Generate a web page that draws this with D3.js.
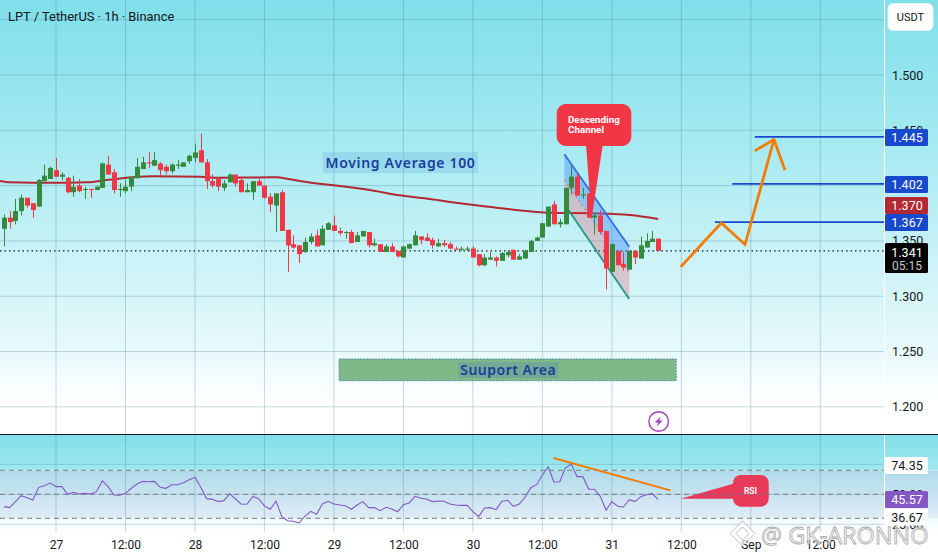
<!DOCTYPE html>
<html>
<head>
<meta charset="utf-8">
<script src="https://cdn.jsdelivr.net/npm/d3@7"></script>
<style>
  html, body { margin: 0; padding: 0; background: #fff; }
  svg { display: block; font-family: Roboto, sans-serif; }
</style>
</head>
<body>
<svg id="chart" width="938" height="560"></svg>
<script>
// candles, hourly, oldest first
const firstBarHour = -9; // hours from 27 Aug 00:00
const opens = [1.361,1.371,1.368,1.377,1.389,1.384,1.381,1.404,1.406,1.414,1.408,1.407,1.394,1.400,1.396,1.397,1.396,1.398,1.419,1.412,1.396,1.395,1.399,1.407,1.415,1.421,1.418,1.420,1.417,1.413,1.418,1.417,1.422,1.425,1.432,1.421,1.404,1.406,1.398,1.403,1.410,1.405,1.394,1.394,1.404,1.400,1.390,1.382,1.394,1.360,1.347,1.346,1.340,1.349,1.355,1.346,1.360,1.364,1.359,1.358,1.358,1.349,1.354,1.358,1.346,1.347,1.340,1.345,1.341,1.335,1.343,1.346,1.354,1.353,1.351,1.345,1.348,1.347,1.343,1.342,1.342,1.343,1.338,1.328,1.333,1.335,1.332,1.337,1.342,1.333,1.334,1.340,1.350,1.353,1.363,1.383,1.365,1.365,1.398,1.408,1.391,1.393,1.371,1.373,1.359,1.322,1.341,1.329,1.324,1.341,1.334,1.344,1.349,1.352];
const highs = [1.374,1.377,1.388,1.392,1.389,1.384,1.406,1.419,1.417,1.425,1.412,1.408,1.409,1.406,1.399,1.397,1.400,1.421,1.427,1.415,1.402,1.405,1.408,1.425,1.426,1.430,1.430,1.421,1.419,1.420,1.423,1.421,1.428,1.438,1.447,1.424,1.410,1.406,1.405,1.411,1.410,1.408,1.402,1.404,1.408,1.400,1.393,1.393,1.396,1.360,1.355,1.346,1.353,1.357,1.360,1.364,1.367,1.373,1.362,1.359,1.360,1.358,1.359,1.358,1.352,1.347,1.347,1.348,1.341,1.345,1.348,1.359,1.354,1.357,1.353,1.352,1.351,1.349,1.345,1.345,1.345,1.345,1.338,1.338,1.340,1.336,1.340,1.341,1.342,1.338,1.342,1.351,1.354,1.366,1.381,1.386,1.370,1.398,1.420,1.411,1.398,1.393,1.375,1.378,1.359,1.348,1.341,1.340,1.341,1.341,1.354,1.357,1.359,1.352];
const lows = [1.345,1.361,1.365,1.373,1.380,1.371,1.381,1.404,1.406,1.408,1.405,1.393,1.390,1.394,1.388,1.389,1.396,1.398,1.410,1.393,1.390,1.393,1.395,1.406,1.415,1.416,1.418,1.407,1.410,1.411,1.415,1.417,1.420,1.421,1.421,1.397,1.398,1.395,1.395,1.403,1.399,1.394,1.394,1.387,1.400,1.388,1.376,1.358,1.359,1.322,1.343,1.330,1.339,1.347,1.345,1.346,1.360,1.359,1.355,1.352,1.348,1.349,1.354,1.344,1.345,1.340,1.340,1.340,1.335,1.335,1.343,1.346,1.347,1.350,1.343,1.345,1.345,1.343,1.342,1.341,1.341,1.335,1.327,1.327,1.333,1.327,1.332,1.335,1.333,1.333,1.334,1.340,1.350,1.353,1.363,1.365,1.362,1.365,1.392,1.391,1.388,1.371,1.356,1.356,1.306,1.322,1.328,1.323,1.324,1.329,1.334,1.344,1.349,1.341];
const closes = [1.371,1.367,1.377,1.389,1.382,1.378,1.405,1.409,1.416,1.408,1.410,1.394,1.399,1.395,1.397,1.396,1.399,1.420,1.410,1.396,1.397,1.399,1.408,1.417,1.421,1.420,1.423,1.414,1.413,1.419,1.419,1.421,1.427,1.430,1.421,1.404,1.400,1.399,1.402,1.410,1.402,1.394,1.396,1.404,1.400,1.389,1.383,1.393,1.359,1.346,1.344,1.338,1.349,1.354,1.345,1.361,1.366,1.359,1.357,1.358,1.348,1.355,1.359,1.346,1.348,1.340,1.345,1.340,1.336,1.345,1.347,1.355,1.351,1.350,1.346,1.348,1.346,1.343,1.342,1.343,1.343,1.335,1.328,1.335,1.335,1.332,1.339,1.340,1.333,1.336,1.341,1.350,1.353,1.366,1.381,1.365,1.367,1.398,1.408,1.391,1.392,1.371,1.373,1.358,1.325,1.347,1.328,1.326,1.341,1.335,1.346,1.350,1.352,1.341];

// moving average 100, read at these hours
const maHours = [-9.7,-7.9,-4,1.9,5.4,8.8,13.3,16.8,24.9,27.8,38.2,39.9,42.1,54.2,59.4,64.6,69.8,75.5,81.3,84.8,94,99.1,104];
const maValues = [1.4042,1.4030,1.4026,1.4026,1.4030,1.4051,1.4075,1.4084,1.4081,1.4071,1.4075,1.4062,1.4042,1.3960,1.3912,1.3879,1.3840,1.3804,1.3770,1.3755,1.3748,1.3734,1.3698];

const rsiValues = [39.7,38.9,43.9,48.9,47.2,45.3,55.8,57.2,59.4,56.4,56.4,50.0,51.7,50.3,50.8,50.3,52.2,61.1,56.4,49.4,49.2,50.8,55.0,58.6,60.8,60.5,60.8,55.8,55.0,58.0,58.0,59.7,62.2,64.2,55.8,46.4,45.8,43.9,44.7,50.5,46.1,41.7,41.9,48.3,46.4,40.3,37.5,44.2,31.4,28.0,27.5,26.1,31.9,35.8,33.3,41.9,44.2,41.9,41.1,40.5,37.5,41.1,43.9,38.9,38.9,36.4,39.2,37.8,35.5,41.4,42.8,48.3,46.7,46.1,43.9,44.4,44.2,41.9,41.1,40.8,40.8,35.5,31.4,38.6,38.9,37.2,44.2,45.0,40.0,41.9,47.5,55.5,58.0,66.1,72.8,60.3,60.5,72.2,75.0,64.7,64.7,54.2,54.2,48.3,36.9,43.9,40.0,39.4,45.5,43.9,48.0,49.7,50.5,45.57];

// axis ticks
const timeTickHours = [0,12,24,36,48,60,72,84,96,108,120,132];
const timeTickLabels = ["27","12:00","28","12:00","29","12:00","30","12:00","31","12:00","Sep","12:00"];
const priceGrid = [1.2,1.25,1.3,1.35,1.4,1.45,1.5,1.55];
const priceTickLabels = [1.2,1.25,1.3,1.35,1.45,1.5];
const rsiGrid = [25,50,75];
const rsiBands = [30,50,70];

// drawings, as [hour, price]
const channelTop = [[87.8,1.4283],[99,1.3448]];
const channelMid = [[87.8,1.4051],[99,1.3210]];
const channelBottom = [[87.8,1.3834],[99,1.2975]];
const targetPrices = [1.444,1.4015,1.367];
const targetFrom = [120.7,116.8,113.8];
const targetLabels = ["1.445","1.402","1.367"];
const arrowPath = [[107.9,1.3265],[114.9,1.3662],[119,1.3467],[124,1.4417]];
const arrowHead = [[120.7,1.4314],[124,1.4417],[125.9,1.4140]];
const rsiDivergence = [[85.9,80.2],[106.1,53.3]];

const col = { up: "#358a3d", down: "#f23645", ma: "#b22833", blue: "#1848cc", orange: "#f57c00", purple: "#8458c4", note: "#1a3d9e" };

const W = 938, H = 560, axisX = 884;
const paneBottom = 434, bottomAxisY = 532;

const svg = d3.select("#chart");
const defs = svg.append("defs");

function gradient(id, stops) {
  const g = defs.append("linearGradient").attr("id", id).attr("x1", 0).attr("x2", 0).attr("y1", 0).attr("y2", 1);
  stops.forEach(s => g.append("stop").attr("offset", s[0]).attr("stop-color", s[1]));
}
gradient("mainBg", [[0, "#7fdfea"], [0.25, "#9be7ef"], [0.55, "#c4f1f6"], [0.8, "#e6f9fb"], [0.93, "#ffffff"], [1, "#ffffff"]]);
gradient("rsiBg", [[0, "#80deea"], [1, "#a0e9ef"]]);
gradient("bandBg", [[0, "#afdaea"], [0.5, "#c8e3f0"], [1, "#e0ecf6"]]);
gradient("rsiLow", [[0, "#f0fbfd"], [1, "#ffffff"]]);

// scales
const t0 = Date.UTC(2024, 7, 27);
const hourToDate = h => new Date(t0 + h * 3600000);
const x = d3.scaleUtc().domain([hourToDate(0), hourToDate(132)]).range([56, 820.3]);
const xh = h => x(hourToDate(h));
const y = d3.scaleLinear().domain([1.2, 1.5]).range([406.8, 75]);
const yRsi = d3.scaleLinear().domain([30, 70]).range([518.3, 470.3]);

const fmt3 = d3.format(".3f");
const line = d3.line().x(d => xh(d[0])).y(d => y(d[1]));
const lineRsi = d3.line().x(d => xh(d[0])).y(d => yRsi(d[1]));

// backgrounds
svg.append("rect").attr("width", W).attr("height", paneBottom).attr("fill", "url(#mainBg)");
svg.append("rect").attr("y", paneBottom).attr("width", W).attr("height", 36).attr("fill", "url(#rsiBg)");
svg.append("rect").attr("y", yRsi(70)).attr("width", W).attr("height", yRsi(30) - yRsi(70)).attr("fill", "url(#bandBg)");
svg.append("rect").attr("y", yRsi(30)).attr("width", W).attr("height", 14).attr("fill", "url(#rsiLow)");
svg.append("line").attr("x1", axisX + 0.5).attr("x2", axisX + 0.5).attr("y1", 0).attr("y2", 530).attr("stroke", "#fff");

// grid
const gridColor = "rgba(60,120,135,0.28)";
const grid = svg.append("g");
grid.selectAll("line.v").data(timeTickHours).join("line").attr("class", "v")
  .attr("x1", d => xh(d)).attr("x2", d => xh(d)).attr("y1", 0).attr("y2", bottomAxisY)
  .attr("stroke", gridColor);
grid.selectAll("line.p").data(priceGrid).join("line").attr("class", "p")
  .attr("x1", 0).attr("x2", axisX).attr("y1", d => y(d)).attr("y2", d => y(d))
  .attr("stroke", gridColor);
grid.selectAll("line.r").data(rsiGrid).join("line").attr("class", "r")
  .attr("x1", 0).attr("x2", axisX).attr("y1", d => yRsi(d)).attr("y2", d => yRsi(d))
  .attr("stroke", gridColor);

// price axis
const yAxis = d3.axisRight(y).tickValues(priceTickLabels).tickFormat(fmt3).tickSize(0).tickPadding(8);
const yAxisG = svg.append("g").attr("transform", `translate(${axisX},0)`).call(yAxis);
yAxisG.select(".domain").remove();
yAxisG.selectAll("text").attr("font-size", 12.5).attr("fill", "#131722").attr("font-family", "Roboto, sans-serif");

// time axis
const xAxis = d3.axisBottom(x).tickValues(timeTickHours.map(hourToDate)).tickSize(0).tickPadding(0)
  .tickFormat((d, i) => timeTickLabels[i]);
const xAxisG = svg.append("g").attr("transform", `translate(0,540)`).call(xAxis);
xAxisG.select(".domain").remove();
xAxisG.selectAll("text").attr("font-size", 12).attr("fill", "#131722").attr("font-family", "Roboto, sans-serif");

// support box
const supportTop = 1.2432, supportBottom = 1.2236;
svg.append("rect").attr("x", xh(48.9)).attr("width", xh(107.1) - xh(48.9))
  .attr("y", y(supportTop)).attr("height", y(supportBottom) - y(supportTop))
  .attr("fill", "#7fb98a").attr("stroke", "#4f8fa0").attr("stroke-dasharray", "2 1");
svg.append("rect").attr("x", xh(69.5)).attr("width", xh(86.8) - xh(69.5))
  .attr("y", y(supportTop) + 3).attr("height", 16).attr("fill", "rgba(90,140,170,0.35)");
svg.append("text").attr("x", xh(78.1)).attr("y", y(1.2329)).attr("dy", "0.35em").attr("text-anchor", "middle")
  .attr("font-family", "'Noto Sans', sans-serif").attr("font-size", 14).attr("font-weight", 600)
  .attr("letter-spacing", 0.5).attr("fill", col.note).text("Suuport Area");

// MA 100 label
const maLabel = svg.append("g");
maLabel.append("rect").attr("x", xh(46.1)).attr("width", xh(72.9) - xh(46.1)).attr("y", y(1.4304)).attr("height", 21)
  .attr("fill", "rgba(110,180,225,0.32)");
maLabel.append("text").attr("x", xh(59.5)).attr("y", y(1.4207)).attr("dy", "0.35em").attr("text-anchor", "middle")
  .attr("font-family", "'Noto Sans', sans-serif").attr("font-size", 14).attr("font-weight", 600)
  .attr("letter-spacing", 0.65).attr("fill", col.note).text("Moving Average 100");

// last price line
svg.append("line").attr("x1", 0).attr("x2", axisX).attr("y1", y(1.341)).attr("y2", y(1.341))
  .attr("stroke", "#131722").attr("stroke-dasharray", "1.5 3").attr("stroke-width", 1.1);

// MA line
svg.append("path").datum(maHours.map((h, i) => [h, maValues[i]]))
  .attr("d", d3.line().curve(d3.curveMonotoneX).x(d => xh(d[0])).y(d => y(d[1])))
  .attr("fill", "none").attr("stroke", col.ma).attr("stroke-width", 2);

// descending channel
const poly = (a, b) => a.concat(b.slice().reverse());
svg.append("path").attr("d", line(poly(channelTop, channelMid)) + "Z").attr("fill", "rgba(70,140,255,0.42)");
svg.append("path").attr("d", line(poly(channelMid, channelBottom)) + "Z").attr("fill", "rgba(242,54,69,0.24)");
svg.append("path").attr("d", line(channelTop)).attr("stroke", "#2e6fe8").attr("stroke-width", 1.8).attr("fill", "none");
svg.append("path").attr("d", line(channelMid)).attr("stroke", "#f0707a").attr("stroke-width", 1.2).attr("stroke-dasharray", "2 3").attr("fill", "none");
svg.append("path").attr("d", line(channelBottom)).attr("stroke", "#1f9a8a").attr("stroke-width", 1.8).attr("fill", "none");

// candles
const bars = opens.map((o, i) => ({ h: firstBarHour + i, o, hi: highs[i], lo: lows[i], c: closes[i] }));
const barG = svg.append("g").selectAll("g").data(bars).join("g")
  .attr("fill", d => d.c >= d.o ? col.up : col.down)
  .attr("stroke", d => d.c >= d.o ? col.up : col.down);
barG.append("line")
  .attr("x1", d => Math.round(xh(d.h)) + 0.5).attr("x2", d => Math.round(xh(d.h)) + 0.5)
  .attr("y1", d => y(d.hi)).attr("y2", d => y(d.lo)).attr("stroke-width", 1);
barG.append("rect")
  .attr("x", d => Math.round(xh(d.h)) - 2).attr("width", 5)
  .attr("y", d => y(Math.max(d.o, d.c)))
  .attr("height", d => Math.max(1, Math.abs(y(d.o) - y(d.c))))
  .attr("stroke", "none");

// callouts
function callout(fill, bx, by, bw, bh, r, tail, lines, opt) {
  const p = d3.path();
  p.moveTo(bx + r, by);
  p.arcTo(bx + bw, by, bx + bw, by + r, r);
  p.arcTo(bx + bw, by + bh, bx + bw - r, by + bh, r);
  p.arcTo(bx, by + bh, bx, by + bh - r, r);
  p.arcTo(bx, by, bx + r, by, r);
  p.closePath();
  svg.append("path").attr("d", p.toString()).attr("fill", fill);
  svg.append("path").attr("d", d3.line()(tail) + "Z").attr("fill", fill);
  lines.forEach((t, i) => svg.append("text").attr("x", opt.x).attr("y", opt.y + i * opt.dy)
    .attr("text-anchor", opt.anchor).attr("font-size", opt.size).attr("font-weight", 700).attr("fill", "#fff").text(t));
}
callout("#f23645", 556.7, 104, 74.6, 42, 9, [[586, 145], [602.7, 145], [591.7, 218]],
  ["Descending", "Channel"], { x: 568, y: 123.3, dy: 9.6, anchor: "start", size: 9.8 });
callout("#e83a58", 733, 475, 35.7, 31.7, 8, [[736, 483], [736, 498.7], [680.7, 498.7]],
  ["RSI"], { x: 750.5, y: 494, dy: 0, anchor: "middle", size: 8.5 });

// targets
svg.append("g").selectAll("line").data(targetPrices).join("line")
  .attr("x1", (d, i) => xh(targetFrom[i])).attr("x2", axisX)
  .attr("y1", d => y(d)).attr("y2", d => y(d))
  .attr("stroke", col.blue).attr("stroke-width", 1.8);

// orange arrow
[arrowPath, arrowHead].forEach(a => svg.append("path").attr("d", line(a)).attr("fill", "none")
  .attr("stroke", col.orange).attr("stroke-width", 2.8));

// lightning badge
const badge = svg.append("g").attr("transform", "translate(658.7,421.5)");
badge.append("circle").attr("r", 9.8).attr("fill", "#fff").attr("stroke", "#a23cc0").attr("stroke-width", 1.4);
badge.append("path").attr("d", "M2,-5 L-4,1 L-0.5,1 L-2,5 L4,-1 L0.5,-1 Z").attr("fill", "#a23cc0");

// rsi
svg.append("g").selectAll("line").data(rsiBands).join("line")
  .attr("x1", 0).attr("x2", axisX).attr("y1", d => yRsi(d)).attr("y2", d => yRsi(d))
  .attr("stroke", "#787b86").attr("stroke-dasharray", "5 4").attr("stroke-width", 1);
svg.append("path").datum(rsiValues.map((v, i) => [firstBarHour + i, v])).attr("d", lineRsi)
  .attr("fill", "none").attr("stroke", "#8458c4").attr("stroke-width", 1.1);
svg.append("path").attr("d", lineRsi(rsiDivergence)).attr("fill", "none").attr("stroke", col.orange).attr("stroke-width", 2);

// pane separator
svg.append("line").attr("x1", 0).attr("x2", W).attr("y1", paneBottom + 0.5).attr("y2", paneBottom + 0.5).attr("stroke", "#131722");

// axis value boxes
function priceBox(text, cy, bg, fg) {
  const h = 17;
  svg.append("rect").attr("x", 885).attr("y", cy - h / 2).attr("width", 43).attr("height", h).attr("rx", 1.5).attr("fill", bg);
  svg.append("text").attr("x", 907).attr("y", cy).attr("dy", "0.36em").attr("text-anchor", "middle")
    .attr("font-size", 12.5).attr("fill", fg).text(text);
}
// rsi scale labels sit behind the boxes
[[50, "50.00"], [25, "25.00"]].forEach(d => svg.append("text").attr("x", 892).attr("y", yRsi(d[0])).attr("dy", "0.36em")
  .attr("font-size", 12.5).attr("fill", "#131722").text(d[1]));

priceBox(targetLabels[0], 137.5, col.blue, "#fff");
priceBox(targetLabels[1], 184.5, col.blue, "#fff");
priceBox("1.370", 205.5, "#b22833", "#fff");
priceBox(targetLabels[2], 222.5, col.blue, "#fff");

// countdown box
svg.append("rect").attr("x", 885).attr("y", 243).attr("width", 43).attr("height", 30).attr("rx", 1.5).attr("fill", "#000");
svg.append("text").attr("x", 907).attr("y", 252).attr("dy", "0.36em").attr("text-anchor", "middle").attr("font-size", 12.5).attr("fill", "#fff").text(fmt3(closes[closes.length - 1]));
svg.append("text").attr("x", 907).attr("y", 266).attr("dy", "0.36em").attr("text-anchor", "middle").attr("font-size", 12).attr("fill", "#c8c8c8").text("05:15");

priceBox("74.35", 465.5, "#fff", "#131722");
priceBox("45.57", 499.5, col.purple, "#fff");
priceBox("36.67", 517, "#fff", "#131722");

// USDT
svg.append("rect").attr("x", 888).attr("y", 3.5).attr("width", 45).attr("height", 27).attr("rx", 5).attr("fill", "#fff").attr("stroke", "#e4f3f6");
svg.append("text").attr("x", 910.5).attr("y", 17).attr("dy", "0.36em").attr("text-anchor", "middle").attr("font-size", 11).attr("fill", "#131722").text("USDT");

// title
svg.append("text").attr("x", 8).attr("y", 16.5).attr("dy", "0.36em").attr("font-size", 12.9).attr("fill", "#131722").text("LPT / TetherUS · 1h · Binance");

// watermark
const wm = svg.append("g").attr("fill", "rgba(255,255,255,0.65)").attr("stroke", "#a9a9a9").attr("stroke-width", 0.8);
wm.append("path").attr("d", "M742.5,521 L755,533.5 L742.5,546 L730,533.5 Z M742.5,527 L736,533.5 L742.5,540 L749,533.5 Z").attr("fill-rule", "evenodd");
wm.append("text").attr("x", 761).attr("y", 543.5).attr("font-size", 23.5).attr("font-family", "'Open Sans', sans-serif").text("@ GK-ARONNO");
</script>
</body>
</html>
